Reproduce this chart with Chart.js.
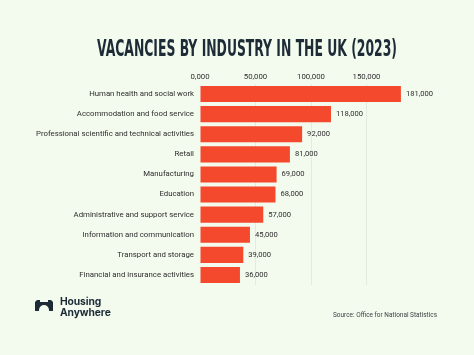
<!DOCTYPE html>
<html>
<head>
<meta charset="utf-8">
<script src="https://cdn.jsdelivr.net/npm/chart.js@4"></script>
<style>
html,body{margin:0;padding:0;background:#f3faee;}
#wrap{position:relative;width:474px;height:355px;overflow:hidden;background:#f3faee;}
#c{position:absolute;left:0;top:0;}
#title{position:absolute;left:97px;top:37px;white-space:nowrap;font-family:"Liberation Sans Narrow","DejaVu Sans Condensed",sans-serif;font-weight:bold;font-size:23px;line-height:23px;color:#1c2b36;transform-origin:0 0;}
#logo{position:absolute;left:35px;top:300px;}
#brand{position:absolute;left:60px;top:296px;font-family:Inter,Roboto,sans-serif;font-weight:700;font-size:10.3px;line-height:11.3px;color:#1c2b36;letter-spacing:-0.1px;}
#source{position:absolute;left:333px;top:310px;font-family:Roboto,"Liberation Sans",sans-serif;font-size:7px;line-height:10px;color:#3d4448;white-space:nowrap;transform-origin:0 0;}
</style>
</head>
<body>
<div id="wrap">
<canvas id="c" width="474" height="355"></canvas>
<div id="title">VACANCIES BY INDUSTRY IN THE UK (2023)</div>
<svg id="logo" width="18" height="11" viewBox="0 0 18 11"><path d="M0,2 L2,0 L5,0 L5,2 L13,2 L13,0 L16,0 L18,2 L18,11 L14,11 L14,9.5 Q13,5 9,5 Q5,5 4,9.5 L4,11 L0,11 Z" fill="#1c2b36"/></svg>
<div id="brand">Housing<br>Anywhere</div>
<div id="source">Source: Office for National Statistics</div>
</div>
<script>
const categories = [
  "Human health and social work",
  "Accommodation and food service",
  "Professional scientific and technical activities",
  "Retail",
  "Manufacturing",
  "Education",
  "Administrative and support service",
  "Information and communication",
  "Transport and storage",
  "Financial and insurance activities"
];
const vacancies = [181000, 118000, 92000, 81000, 69000, 68000, 57000, 45000, 39000, 36000];
const tickValues = [0, 50000, 100000, 150000];
const tickLabels = ["0,000", "50,000", "100,000", "150,000"];

(function(){
  const t = document.getElementById('title');
  const w = t.getBoundingClientRect().width;
  t.style.transform = 'scaleX(' + (300 / w) + ')';
  const s = document.getElementById('source');
  const ws = s.getBoundingClientRect().width;
  s.style.transform = 'scaleX(' + (104 / ws) + ')';
})();

const valueLabels = {
  id: 'valueLabels',
  afterDatasetsDraw(chart) {
    const ctx = chart.ctx;
    const meta = chart.getDatasetMeta(0);
    ctx.save();
    ctx.font = '7.6px Roboto, "Liberation Sans", sans-serif';
    ctx.fillStyle = '#2e2e2e';
    ctx.textAlign = 'left';
    ctx.textBaseline = 'middle';
    meta.data.forEach((bar, i) => {
      ctx.fillText(vacancies[i].toLocaleString('en-US'), bar.x + 5, bar.y);
    });
    ctx.restore();
  }
};

new Chart(document.getElementById('c'), {
  type: 'bar',
  data: {
    labels: categories,
    datasets: [{
      data: vacancies,
      backgroundColor: '#f4492d',
      borderWidth: 0,
      categoryPercentage: 0.8,
      barPercentage: 1.0
    }]
  },
  options: {
    indexAxis: 'y',
    responsive: false,
    animation: false,
    devicePixelRatio: 1,
    layout: { padding: { left: 32, top: 70, right: 52, bottom: 70 } },
    plugins: { legend: { display: false }, tooltip: { enabled: false } },
    scales: {
      x: {
        position: 'top',
        min: 0,
        max: 200000,
        afterBuildTicks: s => { s.ticks = tickValues.map(v => ({ value: v })); },
        afterFit: s => { s.height = 14; },
        ticks: {
          padding: 2,
          color: '#2e2e2e',
          font: { family: 'Roboto, "Liberation Sans", sans-serif', size: 7.8 },
          callback: (v, i) => tickLabels[i]
        },
        grid: {
          drawTicks: false,
          color: c => (c.tick && c.tick.value > 0) ? '#e2ebdd' : 'rgba(0,0,0,0)',
          lineWidth: 1
        },
        border: { display: false }
      },
      y: {
        afterFit: s => { s.width = 168; },
        ticks: {
          padding: 6,
          color: '#2e2e2e',
          font: { family: 'Roboto, "Liberation Sans", sans-serif', size: 7.8 }
        },
        grid: { display: false, drawTicks: false },
        border: { display: false }
      }
    }
  },
  plugins: [valueLabels]
});
</script>
</body>
</html>
